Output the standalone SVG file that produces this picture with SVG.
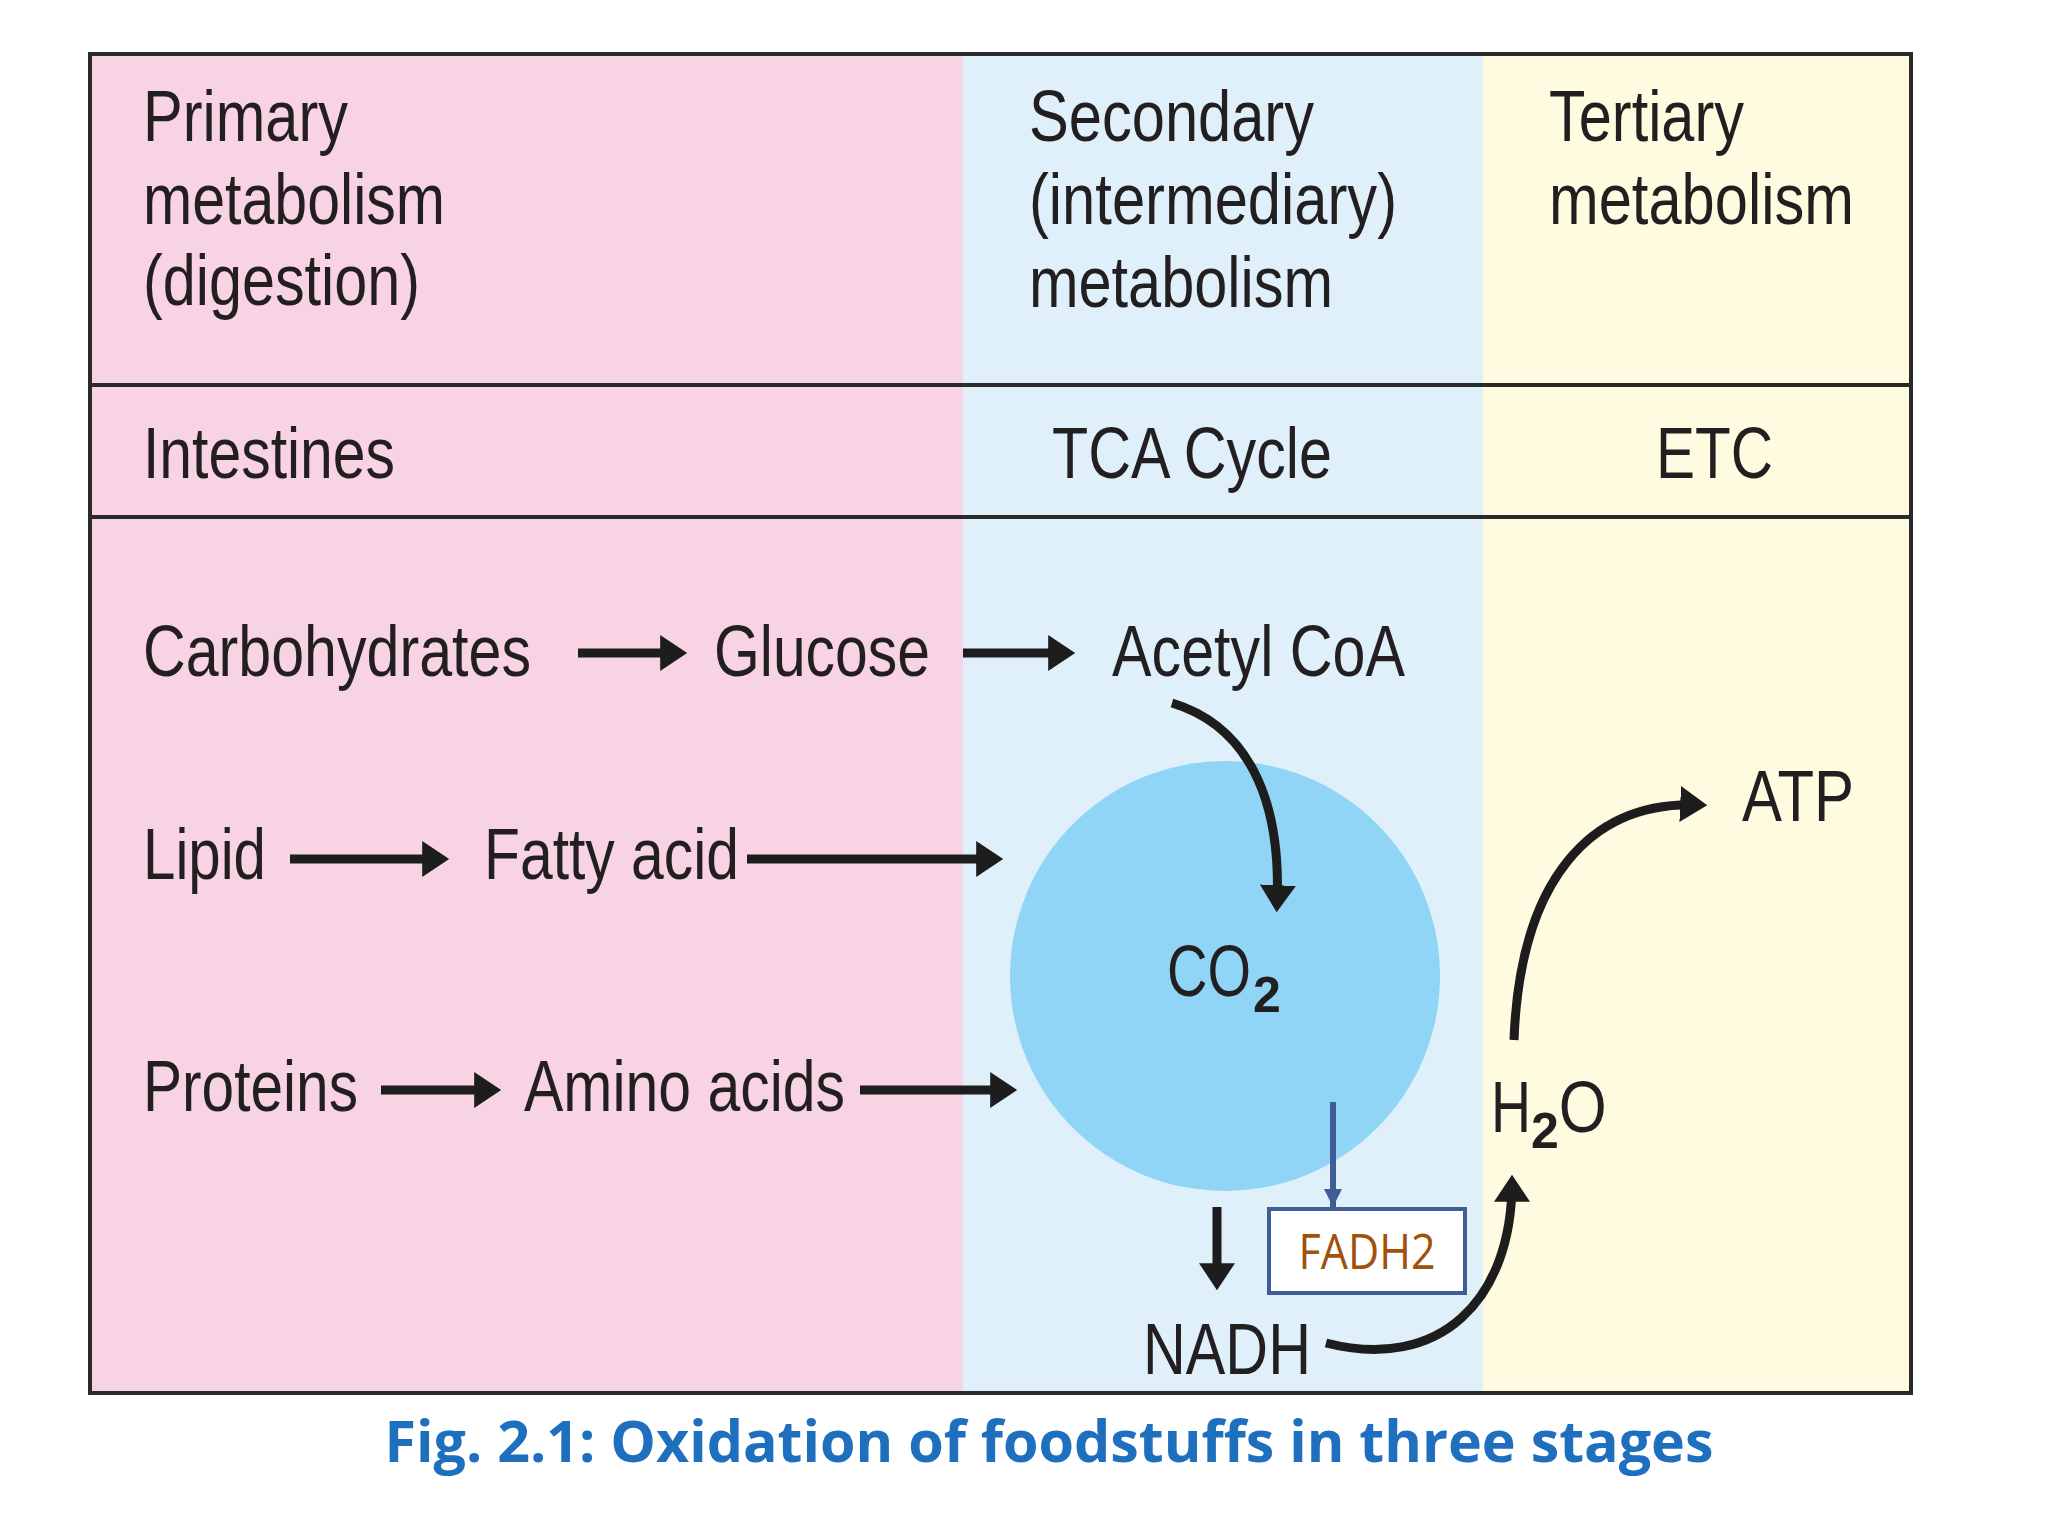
<svg xmlns="http://www.w3.org/2000/svg" width="2048" height="1536" viewBox="0 0 2048 1536">
<defs>
<style>
.t{font-family:"Liberation Sans",Arial,sans-serif;font-size:72px;fill:#231f20}
.a{stroke:#1d1d1d;stroke-width:9;fill:none;marker-end:url(#ah)}
</style>
<marker id="ah" markerWidth="4" markerHeight="4" refX="2.2" refY="2" orient="auto" markerUnits="strokeWidth"><path d="M0,0 L3,2 L0,4 Z" fill="#1d1d1d"/></marker>
<marker id="bh" markerWidth="4" markerHeight="4" refX="3" refY="2" orient="auto" markerUnits="strokeWidth"><path d="M0,0.5 L3,2 L0,3.5 Z" fill="#3d5f96"/></marker>
</defs>
<rect width="2048" height="1536" fill="#ffffff"/>
<g id="panels">
<rect x="90" y="54" width="873" height="1339" fill="#f7d3e4"/>
<rect x="963" y="54" width="520" height="1339" fill="#dff0fb"/>
<rect x="1483" y="54" width="428" height="1339" fill="#fefbe0"/>
<rect x="90" y="54" width="1821" height="1339" fill="none" stroke="#2a2a2a" stroke-width="4"/>
<line x1="90" y1="385" x2="1911" y2="385" stroke="#2a2a2a" stroke-width="4"/>
<line x1="90" y1="517" x2="1911" y2="517" stroke="#2a2a2a" stroke-width="4"/>
</g>
<g id="headers">
<text class="t" x="143" y="141" textLength="205" lengthAdjust="spacingAndGlyphs">Primary</text>
<text class="t" x="143" y="224" textLength="302" lengthAdjust="spacingAndGlyphs">metabolism</text>
<text class="t" x="143" y="305" textLength="277" lengthAdjust="spacingAndGlyphs">(digestion)</text>
<text class="t" x="1029" y="141" textLength="285" lengthAdjust="spacingAndGlyphs">Secondary</text>
<text class="t" x="1029" y="224" textLength="368" lengthAdjust="spacingAndGlyphs">(intermediary)</text>
<text class="t" x="1029" y="307" textLength="304" lengthAdjust="spacingAndGlyphs">metabolism</text>
<text class="t" x="1549" y="141" textLength="195" lengthAdjust="spacingAndGlyphs">Tertiary</text>
<text class="t" x="1549" y="224" textLength="305" lengthAdjust="spacingAndGlyphs">metabolism</text>
<text class="t" x="143" y="478" textLength="252" lengthAdjust="spacingAndGlyphs">Intestines</text>
<text class="t" x="1052" y="478" textLength="280" lengthAdjust="spacingAndGlyphs">TCA Cycle</text>
<text class="t" x="1656" y="478" textLength="117" lengthAdjust="spacingAndGlyphs">ETC</text>
</g>
<g id="cycle"><circle cx="1225" cy="976" r="215" fill="#90d5f5"/></g>
<g id="nodes">
<g id="carbohydrates"><text class="t" x="143" y="676" textLength="388" lengthAdjust="spacingAndGlyphs">Carbohydrates</text></g>
<g id="glucose"><text class="t" x="714" y="676" textLength="216" lengthAdjust="spacingAndGlyphs">Glucose</text></g>
<g id="acetylcoa"><text class="t" x="1112" y="676" textLength="293" lengthAdjust="spacingAndGlyphs">Acetyl CoA</text></g>
<g id="lipid"><text class="t" x="143" y="879" textLength="123" lengthAdjust="spacingAndGlyphs">Lipid</text></g>
<g id="fattyacid"><text class="t" x="484" y="879" textLength="255" lengthAdjust="spacingAndGlyphs">Fatty acid</text></g>
<g id="proteins"><text class="t" x="143" y="1111" textLength="215" lengthAdjust="spacingAndGlyphs">Proteins</text></g>
<g id="aminoacids"><text class="t" x="524" y="1111" textLength="321" lengthAdjust="spacingAndGlyphs">Amino acids</text></g>
<g id="co2"><text class="t" x="1167" y="996"><tspan textLength="84" lengthAdjust="spacingAndGlyphs">CO</tspan><tspan font-size="50" font-weight="bold" dy="16" dx="2">2</tspan></text></g>
<g id="nadh"><text class="t" x="1143" y="1374" textLength="168" lengthAdjust="spacingAndGlyphs">NADH</text></g>
<g id="h2o"><text class="t" x="1491" y="1132"><tspan textLength="40" lengthAdjust="spacingAndGlyphs">H</tspan><tspan font-size="50" font-weight="bold" dy="16">2</tspan><tspan dy="-16" textLength="48" lengthAdjust="spacingAndGlyphs">O</tspan></text></g>
<g id="atp"><text class="t" x="1742" y="821" textLength="112" lengthAdjust="spacingAndGlyphs">ATP</text></g>
<g id="fadh2"><rect x="1269" y="1209" width="196" height="84" fill="#ffffff" stroke="#3d5f96" stroke-width="4"/>
<text x="1367" y="1269" text-anchor="middle" font-family="'Open Sans','Liberation Sans',sans-serif" font-size="50" fill="#a0520a" textLength="137" lengthAdjust="spacingAndGlyphs">FADH2</text></g>
</g>
<g id="connectors">
<line class="a" x1="578" y1="653" x2="680" y2="653"/>
<line class="a" x1="963" y1="653" x2="1068" y2="653"/>
<line class="a" x1="290" y1="859" x2="442" y2="859"/>
<line class="a" x1="747" y1="859" x2="996" y2="859"/>
<line class="a" x1="381" y1="1090" x2="494" y2="1090"/>
<line class="a" x1="860" y1="1090" x2="1010" y2="1090"/>
<path class="a" d="M1172,703 C1245,725 1282,795 1277,905"/>
<line class="a" x1="1217" y1="1207" x2="1217" y2="1283"/>
<path class="a" d="M1326,1343 C1440,1372 1512,1300 1512,1182"/>
<path class="a" d="M1514,1040 C1520,880 1590,800 1700,805"/>
<line x1="1333" y1="1102" x2="1333" y2="1207" stroke="#3d5f96" stroke-width="6" marker-end="url(#bh)"/>
</g>
<text id="caption" x="1049" y="1462" text-anchor="middle" font-family="'Open Sans','Liberation Sans',sans-serif" font-weight="bold" font-size="58" fill="#1f6fbf" textLength="1329" lengthAdjust="spacingAndGlyphs">Fig. 2.1: Oxidation of foodstuffs in three stages</text>
</svg>
